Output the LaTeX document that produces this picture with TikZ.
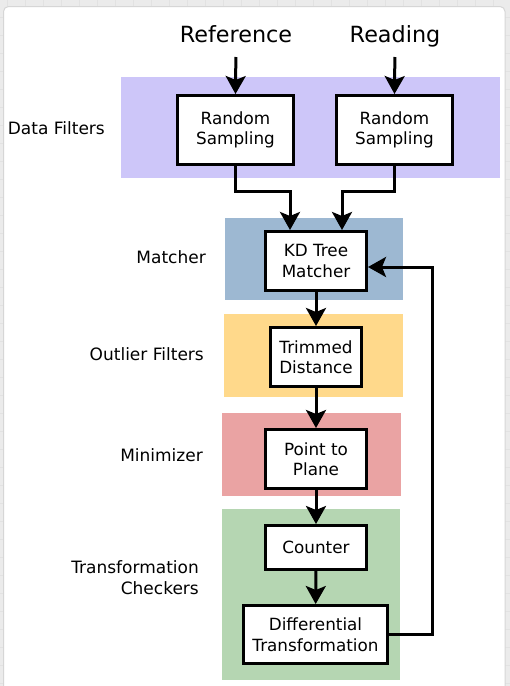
\documentclass[tikz,border=0pt]{standalone}
\usepackage{fontspec}
\setmainfont{DejaVu Sans}
\usetikzlibrary{positioning,arrows.meta}

\definecolor{pagegray}{HTML}{EBEBEB}
\definecolor{gridgray}{HTML}{E2E2E2}
\definecolor{cardline}{HTML}{D6D6D6}
\definecolor{filterband}{HTML}{CDC6F9}
\definecolor{matchband}{HTML}{9DB8D2}
\definecolor{outlierband}{HTML}{FFD98B}
\definecolor{minband}{HTML}{EAA3A3}
\definecolor{checkband}{HTML}{B5D6B2}

\begin{document}
\begin{tikzpicture}[x=1pt,y=-1pt,
    block/.style={draw=black, line width=3pt, fill=white, align=center,
        inner sep=0pt, font=\fontsize{16.8}{20.5}\selectfont},
    stage/.style={anchor=east, align=right, inner sep=0pt,
        font=\fontsize{17}{21}\selectfont},
    input/.style={anchor=base, inner sep=0pt, font=\fontsize{22.3}{26}\selectfont},
    flow/.style={line width=3pt, -{Stealth[length=18pt,width=20pt,inset=4pt]}}]
\useasboundingbox (0,0) rectangle (510,686);

% page and card
\fill[pagegray] (0,0) rectangle (510,686);
\begin{scope}[shift={(7,17)}]
\draw[gridgray, line width=0.8pt, step=18pt] (-7,-17) grid (503,669);
\end{scope}
\draw[cardline, fill=white, line width=1pt, rounded corners=5pt] (3.5,6.5) rectangle (505,694);

% coloured bands
\fill[filterband] (121,77) rectangle (500,178);
\fill[matchband] (225,218) rectangle (403,300);
\fill[outlierband] (224,314) rectangle (403,397);
\fill[minband] (222,413) rectangle (401,496);
\fill[checkband] (222,509) rectangle (400,680);

% stage labels
\node[stage] (lfilter) at (105,128) {Data Filters};
\node[stage] (lmatch) at (206,257) {Matcher};
\node[stage] (loutlier) at (204,354) {Outlier Filters};
\node[stage] (lmin) at (203,455) {Minimizer};
\node[stage] (lcheck) at (199,578) {Transformation\\Checkers};

% inputs
\node[input] (ref) at (236,42.5) {Reference};
\node[input] (read) at (395,42.5) {Reading};

% blocks
\node[block, minimum width=116pt, minimum height=69pt] (rs1) at (235.5,130) {Random\\Sampling};
\node[block, minimum width=116pt, minimum height=69pt] (rs2) at (394.5,130) {Random\\Sampling};
\node[block, minimum width=101pt, minimum height=59pt] (kd) at (316,261) {KD Tree\\Matcher};
\node[block, minimum width=91pt, minimum height=59pt] (td) at (316,357) {Trimmed\\Distance};
\node[block, minimum width=101pt, minimum height=59pt] (pp) at (316,459) {Point to\\Plane};
\node[block, minimum width=101pt, minimum height=44pt] (cnt) at (316,547.5) {Counter};
\node[block, minimum width=144pt, minimum height=58pt] (dt) at (315.5,634.5) {Differential\\Transformation};

% connectors
\draw[flow, shorten <=14.5pt] (ref.base) -- (rs1.north);
\draw[flow, shorten <=14.5pt] (read.base) -- (rs2.north);
\draw[flow] (rs1.south) -- ++(0,25) -| ([xshift=-26pt]kd.north);
\draw[flow] (rs2.south) -- ++(0,25) -| ([xshift=26pt]kd.north);
\draw[flow] (kd) -- (td);
\draw[flow] (td) -- (pp);
\draw[flow] (pp) -- (cnt);
\draw[flow] (cnt) -- (dt);

% feedback loop
\draw[flow] (dt.east) -- ++(43,0) |- ([yshift=-6pt]kd.east);

\end{tikzpicture}
\end{document}
